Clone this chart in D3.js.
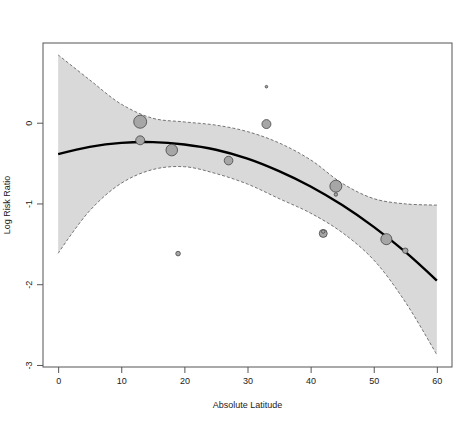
<!DOCTYPE html>
<html>
<head>
<meta charset="utf-8">
<script src="https://cdn.jsdelivr.net/npm/d3@7"></script>
<style>
  body { margin: 0; background: #fff; }
  svg text { font-family: "Liberation Sans", Arial, Helvetica, sans-serif; fill: #222; }
</style>
</head>
<body>
<div id="plot"></div>
<script>
// studies: absolute latitude, log risk ratio, model weight
const ablat = [44, 55, 42, 52, 13, 44, 19, 13, 27, 42, 18, 33, 33];
const logRR = [-0.889, -1.585, -1.348, -1.442, -0.218, -0.786, -1.621, 0.012, -0.469, -1.371, -0.339, 0.446, -0.017];
const weights = [2.0, 3.1, 2.0, 7.6, 5.7, 8.5, 2.6, 9.6, 5.4, 4.9, 8.1, 1.6, 5.7];

const predLat = [0, 5, 10, 15, 20, 25, 30, 35, 40, 45, 50, 55, 60];
const pred = [-0.39, -0.30, -0.25, -0.24, -0.27, -0.335, -0.445, -0.60, -0.79, -1.02, -1.29, -1.60, -1.955];
const ciUpper = [0.84, 0.53, 0.23, 0.055, 0.01, -0.03, -0.11, -0.25, -0.46, -0.75, -0.94, -1.005, -1.02];
const ciLower = [-1.617, -1.09, -0.75, -0.58, -0.545, -0.63, -0.76, -0.94, -1.12, -1.36, -1.70, -2.22, -2.875];

const xTicks = [0, 10, 20, 30, 40, 50, 60];
const yTicks = [0, -1, -2, -3];

const w = 474, h = 421;
const boxL = 43, boxR = 452, boxT = 43, boxB = 367;

const points = ablat.map((d, i) => ({ x: d, y: logRR[i], w: weights[i] }));
points.sort((a, b) => b.w - a.w);
const band = predLat.map((d, i) => ({ x: d, p: pred[i], lo: ciLower[i], hi: ciUpper[i] }));

const xScale = d3.scaleLinear().domain([-2.4, 62.4]).range([boxL, boxR]);
const yScale = d3.scaleLinear().domain([-3.025, 0.987]).range([boxB, boxT]);
const rScale = d3.scaleLinear()
  .domain([Math.sqrt(d3.min(weights)), Math.sqrt(d3.max(weights))])
  .range([1.3, 6.5]);

const svg = d3.select("#plot").append("svg")
  .attr("width", w)
  .attr("height", h);

const curve = d3.curveCatmullRom.alpha(0.5);

svg.append("path")
  .datum(band)
  .attr("fill", "#d9d9d9")
  .attr("d", d3.area().x(d => xScale(d.x)).y0(d => yScale(d.lo)).y1(d => yScale(d.hi)).curve(curve));

["lo", "hi"].forEach(k => {
  svg.append("path")
    .datum(band)
    .attr("fill", "none")
    .attr("stroke", "#555")
    .attr("stroke-width", 0.8)
    .attr("stroke-dasharray", "3,2")
    .attr("d", d3.line().x(d => xScale(d.x)).y(d => yScale(d[k])).curve(curve));
});

svg.append("path")
  .datum(band)
  .attr("fill", "none")
  .attr("stroke", "#000")
  .attr("stroke-width", 2.4)
  .attr("d", d3.line().x(d => xScale(d.x)).y(d => yScale(d.p)).curve(curve));

svg.selectAll("circle")
  .data(points)
  .enter()
  .append("circle")
    .attr("cx", d => xScale(d.x))
    .attr("cy", d => yScale(d.y))
    .attr("r", d => rScale(Math.sqrt(d.w)))
    .attr("fill", "#a6a6a6")
    .attr("stroke", "#444")
    .attr("stroke-width", 0.8);

// box
svg.append("rect")
  .attr("x", boxL).attr("y", boxT)
  .attr("width", boxR - boxL).attr("height", boxB - boxT)
  .attr("fill", "none")
  .attr("stroke", "#555")
  .attr("stroke-width", 1);

const fmt = d => String(d);
const xAxis = d3.axisBottom(xScale).tickValues(xTicks).tickFormat(fmt).tickSize(6).tickPadding(5).tickSizeOuter(0);
const yAxis = d3.axisLeft(yScale).tickValues(yTicks).tickFormat(fmt).tickSize(6).tickPadding(4).tickSizeOuter(0);

const gx = svg.append("g")
  .attr("transform", "translate(0," + boxB + ")")
  .call(xAxis);
gx.select(".domain").remove();
gx.selectAll("line").attr("stroke", "#555");
gx.selectAll("text").attr("font-size", 9).attr("font-family", null).attr("fill", "#222");

const gy = svg.append("g")
  .attr("transform", "translate(" + boxL + ",0)")
  .call(yAxis);
gy.select(".domain").remove();
gy.selectAll("line").attr("stroke", "#555");
gy.selectAll("text")
  .attr("font-size", 9).attr("font-family", null).attr("fill", "#222")
  .attr("x", 0).attr("y", 0).attr("dy", "0.35em")
  .attr("text-anchor", "middle")
  .attr("transform", "translate(-14,0) rotate(-90)");

svg.append("text")
  .attr("x", (boxL + boxR) / 2)
  .attr("y", 408)
  .attr("text-anchor", "middle")
  .attr("font-size", 9)
  .text("Absolute Latitude");

svg.append("text")
  .attr("transform", "translate(10," + (boxT + boxB) / 2 + ") rotate(-90)")
  .attr("text-anchor", "middle")
  .attr("font-size", 9)
  .text("Log Risk Ratio");
</script>
</body>
</html>
